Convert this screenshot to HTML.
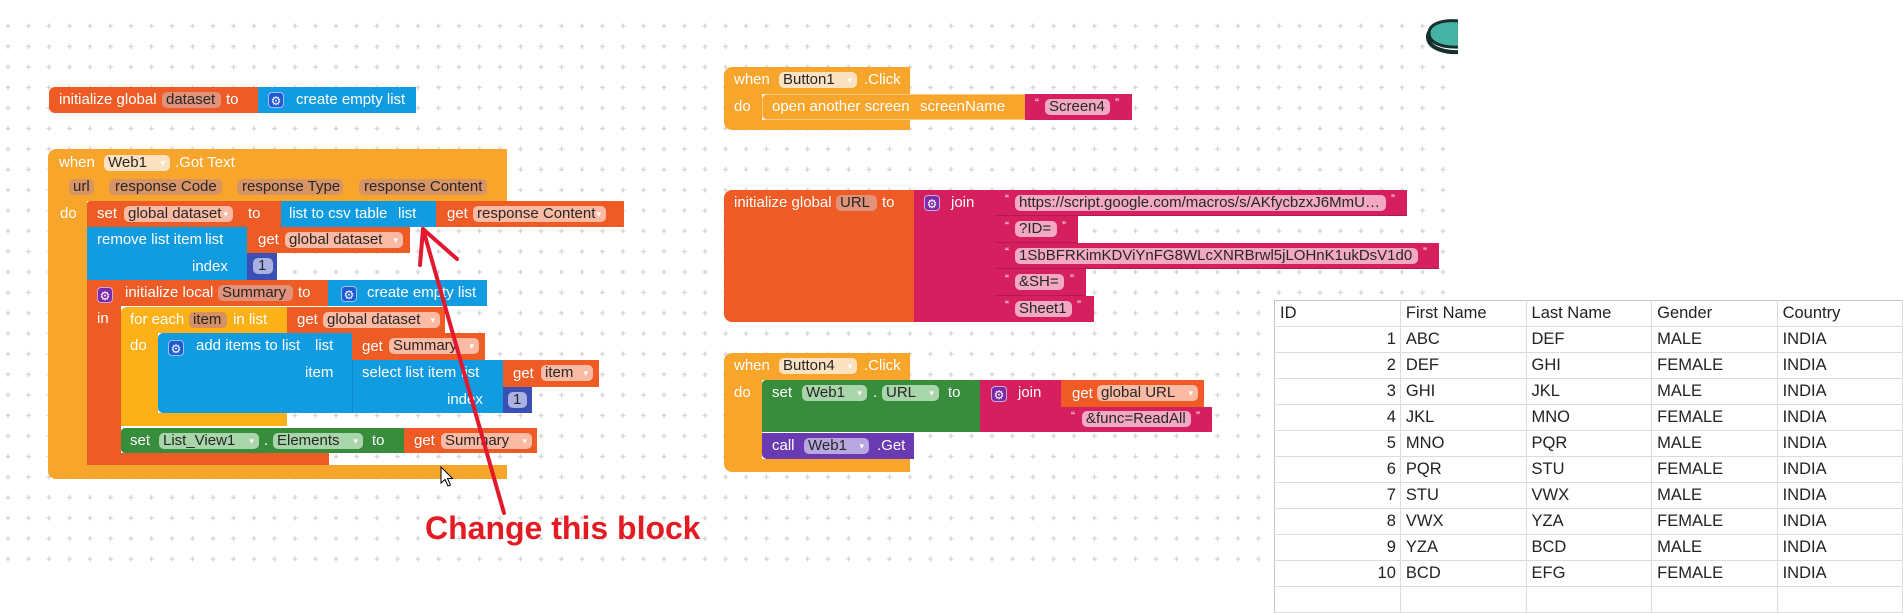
<!DOCTYPE html>
<html><head><meta charset="utf-8">
<style>
body{margin:0;width:1903px;height:593px;position:relative;overflow:hidden;background:#fff;font-family:"Liberation Sans",Arial,sans-serif;}
.r{position:absolute;}
.t{position:absolute;color:#fff;font-size:15px;line-height:26px;height:26px;white-space:nowrap;}
.p{position:absolute;border-radius:5px;color:#262626;font-size:15px;line-height:16px;height:16px;white-space:nowrap;padding-left:4px;box-sizing:border-box;overflow:hidden;}
.d{position:absolute;right:5px;top:0;font-size:9px;color:#fff;}
.q{position:absolute;color:#fff;font-size:12px;line-height:12px;}
.g{position:absolute;width:16px;height:16px;border-radius:4px;color:#fff;font-size:12px;line-height:16px;text-align:center;box-sizing:border-box;border:1px solid rgba(255,255,255,0.6);font-family:"DejaVu Sans",sans-serif;}
table{position:absolute;left:1274px;top:300px;border-collapse:collapse;table-layout:fixed;font-size:16.5px;color:#222;background:#fff;}
td{height:25px;line-height:25px;border:1px solid #dcdcdc;padding:0 5px;white-space:nowrap;overflow:hidden;background:#fff;}
td.n{text-align:right;padding-right:4px;}
</style></head><body>

<svg class="r" style="left:0;top:0" width="1458" height="570">
<defs><pattern id="gp" x="-2.25" y="15.75" width="20.5" height="20.5" patternUnits="userSpaceOnUse">
<path d="M7.75 10.25H12.75M10.25 7.75V12.75" stroke="#cdcdcd" stroke-width="1.1"/></pattern></defs>
<rect x="0" y="14" width="1458" height="556" fill="url(#gp)"/>
</svg>

<!-- teal shape top right -->
<svg class="r" style="left:1420px;top:15px" width="38" height="42">
<path d="M40 12 C22 8 8 12 8 22 C8 32 22 38 40 37" fill="none" stroke="#16302d" stroke-width="4"/>
<path d="M40 6 C20 4 9 10 9 18 C9 28 22 33 40 32 Z" fill="#45b3a4" stroke="#16302d" stroke-width="3"/>
</svg>

<!-- Block A: init global dataset -->
<div class="r" style="left:49px;top:87px;width:209px;height:26px;background:#ef5b25;border-radius:6px 0 0 6px"></div>
<div class="r" style="left:258px;top:87px;width:158px;height:26px;background:#119ce1"></div>
<div class="t" style="left:59px;top:87px">initialize global</div>
<div class="p" style="left:162px;top:92px;width:59px;background:#e1927a">dataset</div>
<div class="t" style="left:226px;top:87px">to</div>
<div class="g" style="left:268px;top:92px;background:#1d5ad8">⚙</div>
<div class="t" style="left:296px;top:87px">create empty list</div>

<!-- Block B: when Web1.GotText -->
<div class="r" style="left:48px;top:149px;width:459px;height:52px;background:#f8a52c;border-radius:8px 0 0 0"></div>
<div class="r" style="left:48px;top:201px;width:39px;height:264px;background:#f8a52c"></div>
<div class="r" style="left:48px;top:465px;width:459px;height:14px;background:#f8a52c;border-radius:0 0 0 8px"></div>
<div class="t" style="left:59px;top:150px">when</div>
<div class="p" style="left:104px;top:155px;width:66px;background:#fde2c2">Web1<span class="d">▾</span></div>
<div class="t" style="left:175px;top:150px">.Got Text</div>
<div class="p" style="left:69px;top:179px;width:25px;background:#d99466">url</div>
<div class="p" style="left:109px;top:179px;width:113px;background:#d99466;padding-left:6px">response Code</div>
<div class="p" style="left:237px;top:179px;width:106px;background:#d99466;padding-left:5px">response Type</div>
<div class="p" style="left:359px;top:179px;width:128px;background:#d99466;padding-left:5px">response Content</div>
<div class="t" style="left:60px;top:201px">do</div>

<!-- set global dataset row -->
<div class="r" style="left:87px;top:201px;width:194px;height:26px;background:#ef5b25;border-radius:3px 0 0 0"></div>
<div class="r" style="left:281px;top:201px;width:155px;height:26px;background:#119ce1"></div>
<div class="r" style="left:436px;top:201px;width:188px;height:26px;background:#ef5b25"></div>
<div class="t" style="left:97px;top:201px">set</div>
<div class="p" style="left:124px;top:206px;width:109px;background:#fbbaa3">global dataset<span class="d">▾</span></div>
<div class="t" style="left:248px;top:201px">to</div>
<div class="t" style="left:289px;top:201px">list to csv table</div>
<div class="t" style="left:398px;top:201px">list</div>
<div class="t" style="left:447px;top:201px">get</div>
<div class="p" style="left:473px;top:206px;width:133px;background:#fbbaa3">response Content<span class="d">▾</span></div>

<!-- remove list item -->
<div class="r" style="left:87px;top:227px;width:160px;height:53px;background:#119ce1"></div>
<div class="r" style="left:247px;top:227px;width:163px;height:26px;background:#ef5b25"></div>
<div class="r" style="left:247px;top:253px;width:30px;height:27px;background:#3b4fb5"></div>
<div class="t" style="left:97px;top:227px">remove list item</div>
<div class="t" style="left:205px;top:227px">list</div>
<div class="t" style="left:192px;top:254px">index</div>
<div class="t" style="left:258px;top:227px">get</div>
<div class="p" style="left:285px;top:232px;width:118px;background:#fbbaa3">global dataset<span class="d">▾</span></div>
<div class="p" style="left:253px;top:258px;width:20px;background:#aab2e3;padding-left:5px">1</div>

<!-- initialize local -->
<div class="r" style="left:87px;top:280px;width:241px;height:26px;background:#ef5b25"></div>
<div class="r" style="left:328px;top:280px;width:159px;height:26px;background:#119ce1"></div>
<div class="r" style="left:87px;top:306px;width:34px;height:147px;background:#ef5b25"></div>
<div class="r" style="left:87px;top:453px;width:242px;height:12px;background:#ef5b25"></div>
<div class="g" style="left:97px;top:287px;background:#7b2ba8">⚙</div>
<div class="t" style="left:125px;top:280px">initialize local</div>
<div class="p" style="left:218px;top:285px;width:75px;background:#e1927a">Summary</div>
<div class="t" style="left:298px;top:280px">to</div>
<div class="g" style="left:341px;top:286px;background:#1d5ad8">⚙</div>
<div class="t" style="left:367px;top:280px">create empty list</div>
<div class="t" style="left:97px;top:306px">in</div>

<!-- for each -->
<div class="r" style="left:121px;top:307px;width:166px;height:26px;background:#fbb117;border-radius:6px 0 0 0"></div>
<div class="r" style="left:287px;top:307px;width:158px;height:26px;background:#ef5b25"></div>
<div class="r" style="left:121px;top:333px;width:37px;height:80px;background:#fbb117"></div>
<div class="r" style="left:121px;top:413px;width:166px;height:13px;background:#fbb117"></div>
<div class="t" style="left:130px;top:307px">for each</div>
<div class="p" style="left:189px;top:312px;width:38px;background:#d59063">item</div>
<div class="t" style="left:233px;top:307px">in list</div>
<div class="t" style="left:297px;top:307px">get</div>
<div class="p" style="left:323px;top:312px;width:117px;background:#fbbaa3">global dataset<span class="d">▾</span></div>
<div class="t" style="left:130px;top:333px">do</div>

<!-- add items to list -->
<div class="r" style="left:158px;top:333px;width:194px;height:80px;background:#119ce1;border-radius:5px 0 0 5px"></div>
<div class="r" style="left:352px;top:333px;width:133px;height:27px;background:#ef5b25"></div>
<div class="r" style="left:352px;top:360px;width:151px;height:53px;background:#119ce1;border-left:1px solid #0c86c4;box-sizing:border-box"></div>
<div class="r" style="left:503px;top:360px;width:96px;height:27px;background:#ef5b25"></div>
<div class="r" style="left:503px;top:387px;width:29px;height:26px;background:#3b4fb5"></div>
<div class="g" style="left:168px;top:340px;background:#1d5ad8">⚙</div>
<div class="t" style="left:196px;top:333px">add items to list</div>
<div class="t" style="left:315px;top:333px">list</div>
<div class="t" style="left:362px;top:334px">get</div>
<div class="p" style="left:389px;top:338px;width:90px;background:#fbbaa3">Summary<span class="d">▾</span></div>
<div class="t" style="left:305px;top:360px">item</div>
<div class="t" style="left:362px;top:360px">select list item</div>
<div class="t" style="left:461px;top:360px">list</div>
<div class="t" style="left:513px;top:361px">get</div>
<div class="p" style="left:541px;top:365px;width:52px;background:#fbbaa3">item<span class="d">▾</span></div>
<div class="t" style="left:447px;top:387px">index</div>
<div class="p" style="left:508px;top:392px;width:19px;background:#aab2e3;padding-left:5px">1</div>

<!-- set List_View1 -->
<div class="r" style="left:121px;top:428px;width:283px;height:25px;background:#378d3c;border-radius:4px 0 0 4px"></div>
<div class="r" style="left:404px;top:428px;width:133px;height:25px;background:#ef5b25"></div>
<div class="t" style="left:130px;top:428px">set</div>
<div class="p" style="left:159px;top:433px;width:100px;background:#a8d5a9">List_View1<span class="d">▾</span></div>
<div class="t" style="left:264px;top:428px">.</div>
<div class="p" style="left:273px;top:433px;width:90px;background:#a8d5a9">Elements<span class="d">▾</span></div>
<div class="t" style="left:372px;top:428px">to</div>
<div class="t" style="left:414px;top:428px">get</div>
<div class="p" style="left:441px;top:433px;width:91px;background:#fbbaa3">Summary<span class="d">▾</span></div>

<!-- Block C: when Button1.Click -->
<div class="r" style="left:724px;top:67px;width:186px;height:27px;background:#f8a52c;border-radius:8px 0 0 0"></div>
<div class="r" style="left:724px;top:94px;width:38px;height:26px;background:#f8a52c"></div>
<div class="r" style="left:724px;top:120px;width:186px;height:10px;background:#f8a52c;border-radius:0 0 0 8px"></div>
<div class="r" style="left:762px;top:94px;width:263px;height:26px;background:#f8a52c;border:1px solid #fcc883;border-right:none;box-sizing:border-box;border-radius:5px 0 0 5px"></div>
<div class="r" style="left:1025px;top:94px;width:107px;height:26px;background:#d61f5e"></div>
<div class="t" style="left:734px;top:67px">when</div>
<div class="p" style="left:779px;top:72px;width:78px;background:#fde2c2">Button1<span class="d">▾</span></div>
<div class="t" style="left:864px;top:67px">.Click</div>
<div class="t" style="left:734px;top:94px">do</div>
<div class="t" style="left:772px;top:94px">open another screen</div>
<div class="t" style="left:920px;top:94px">screenName</div>
<div class="q" style="left:1035px;top:97px">“</div>
<div class="p" style="left:1045px;top:99px;width:65px;background:#f3a9c4">Screen4</div>
<div class="q" style="left:1115px;top:97px">”</div>

<!-- Block D: init global URL -->
<div class="r" style="left:724px;top:190px;width:190px;height:132px;background:#ef5b25;border-radius:8px 0 0 8px"></div>
<div class="r" style="left:914px;top:190px;width:81px;height:132px;background:#d61f5e"></div>
<div class="t" style="left:734px;top:190px">initialize global</div>
<div class="p" style="left:836px;top:195px;width:41px;background:#e1927a">URL</div>
<div class="t" style="left:882px;top:190px">to</div>
<div class="g" style="left:924px;top:195px;background:#7b2ba8">⚙</div>
<div class="t" style="left:951px;top:190px">join</div>

<div class="r" style="left:995px;top:190px;width:412px;height:26px;background:#d61f5e;border-bottom:1px solid #b9174f;box-sizing:border-box"></div>
<div class="q" style="left:1005px;top:193px">“</div>
<div class="p" style="left:1015px;top:195px;width:371px;background:#f3a9c4">https://script.google.com/macros/s/AKfycbzxJ6MmU…</div>
<div class="q" style="left:1391px;top:193px">”</div>

<div class="r" style="left:995px;top:216px;width:83px;height:27px;background:#d61f5e;border-bottom:1px solid #b9174f;box-sizing:border-box"></div>
<div class="q" style="left:1005px;top:220px">“</div>
<div class="p" style="left:1015px;top:221px;width:42px;background:#f3a9c4">?ID=</div>
<div class="q" style="left:1062px;top:220px">”</div>

<div class="r" style="left:995px;top:243px;width:444px;height:26px;background:#d61f5e;border-bottom:1px solid #b9174f;box-sizing:border-box"></div>
<div class="q" style="left:1005px;top:246px">“</div>
<div class="p" style="left:1015px;top:248px;width:403px;background:#f3a9c4">1SbBFRKimKDViYnFG8WLcXNRBrwl5jLOHnK1ukDsV1d0</div>
<div class="q" style="left:1423px;top:246px">”</div>

<div class="r" style="left:995px;top:269px;width:91px;height:27px;background:#d61f5e;border-bottom:1px solid #b9174f;box-sizing:border-box"></div>
<div class="q" style="left:1005px;top:273px">“</div>
<div class="p" style="left:1015px;top:274px;width:49px;background:#f3a9c4">&amp;SH=</div>
<div class="q" style="left:1070px;top:273px">”</div>

<div class="r" style="left:995px;top:296px;width:99px;height:26px;background:#d61f5e"></div>
<div class="q" style="left:1005px;top:299px">“</div>
<div class="p" style="left:1015px;top:301px;width:57px;background:#f3a9c4">Sheet1</div>
<div class="q" style="left:1077px;top:299px">”</div>

<!-- Block E: when Button4.Click -->
<div class="r" style="left:724px;top:353px;width:186px;height:27px;background:#f8a52c;border-radius:8px 0 0 0"></div>
<div class="r" style="left:724px;top:380px;width:38px;height:79px;background:#f8a52c"></div>
<div class="r" style="left:724px;top:459px;width:186px;height:13px;background:#f8a52c;border-radius:0 0 0 8px"></div>
<div class="t" style="left:734px;top:353px">when</div>
<div class="p" style="left:779px;top:358px;width:78px;background:#fde2c2">Button4<span class="d">▾</span></div>
<div class="t" style="left:864px;top:353px">.Click</div>
<div class="t" style="left:734px;top:380px">do</div>

<div class="r" style="left:762px;top:380px;width:218px;height:52px;background:#378d3c;border-radius:4px 0 0 0"></div>
<div class="r" style="left:980px;top:380px;width:81px;height:52px;background:#d61f5e"></div>
<div class="r" style="left:1061px;top:380px;width:143px;height:27px;background:#ef5b25"></div>
<div class="r" style="left:1061px;top:407px;width:151px;height:25px;background:#d61f5e"></div>
<div class="r" style="left:762px;top:433px;width:152px;height:26px;background:#6a3ab2;border-radius:0 0 0 5px"></div>
<div class="t" style="left:772px;top:380px">set</div>
<div class="p" style="left:802px;top:385px;width:65px;background:#a8d5a9">Web1<span class="d">▾</span></div>
<div class="t" style="left:873px;top:380px">.</div>
<div class="p" style="left:882px;top:385px;width:57px;background:#a8d5a9">URL<span class="d">▾</span></div>
<div class="t" style="left:948px;top:380px">to</div>
<div class="g" style="left:991px;top:386px;background:#7b2ba8">⚙</div>
<div class="t" style="left:1018px;top:380px">join</div>
<div class="t" style="left:1072px;top:381px">get</div>
<div class="p" style="left:1097px;top:385px;width:101px;background:#fbbaa3">global URL<span class="d">▾</span></div>
<div class="q" style="left:1071px;top:410px">“</div>
<div class="p" style="left:1082px;top:411px;width:109px;background:#f3a9c4">&amp;func=ReadAll</div>
<div class="q" style="left:1196px;top:410px">”</div>
<div class="t" style="left:772px;top:433px">call</div>
<div class="p" style="left:804px;top:438px;width:65px;background:#b9a7e0">Web1<span class="d">▾</span></div>
<div class="t" style="left:877px;top:433px">.Get</div>

<!-- Table -->
<div class="r" style="left:1274px;top:299px;width:629px;height:294px;background:#fff"></div>
<table>
<col style="width:127px"><col style="width:126px"><col style="width:126px"><col style="width:126px"><col style="width:126px">
<tr><td style="border-left-color:#c4c4c4;border-top-color:#c4c4c4">ID</td><td style="border-top-color:#c4c4c4">First Name</td><td style="border-top-color:#c4c4c4">Last Name</td><td style="border-top-color:#c4c4c4">Gender</td><td style="border-top-color:#c4c4c4">Country</td></tr>
<tr><td class="n" style="border-left-color:#c4c4c4">1</td><td>ABC</td><td>DEF</td><td>MALE</td><td>INDIA</td></tr>
<tr><td class="n" style="border-left-color:#c4c4c4">2</td><td>DEF</td><td>GHI</td><td>FEMALE</td><td>INDIA</td></tr>
<tr><td class="n" style="border-left-color:#c4c4c4">3</td><td>GHI</td><td>JKL</td><td>MALE</td><td>INDIA</td></tr>
<tr><td class="n" style="border-left-color:#c4c4c4">4</td><td>JKL</td><td>MNO</td><td>FEMALE</td><td>INDIA</td></tr>
<tr><td class="n" style="border-left-color:#c4c4c4">5</td><td>MNO</td><td>PQR</td><td>MALE</td><td>INDIA</td></tr>
<tr><td class="n" style="border-left-color:#c4c4c4">6</td><td>PQR</td><td>STU</td><td>FEMALE</td><td>INDIA</td></tr>
<tr><td class="n" style="border-left-color:#c4c4c4">7</td><td>STU</td><td>VWX</td><td>MALE</td><td>INDIA</td></tr>
<tr><td class="n" style="border-left-color:#c4c4c4">8</td><td>VWX</td><td>YZA</td><td>FEMALE</td><td>INDIA</td></tr>
<tr><td class="n" style="border-left-color:#c4c4c4">9</td><td>YZA</td><td>BCD</td><td>MALE</td><td>INDIA</td></tr>
<tr><td class="n" style="border-left-color:#c4c4c4">10</td><td>BCD</td><td>EFG</td><td>FEMALE</td><td>INDIA</td></tr>
<tr><td style="border-left-color:#c4c4c4"></td><td></td><td></td><td></td><td></td></tr>
</table>

<!-- Overlay: red arrow, label, cursor -->
<svg class="r" style="left:0;top:0" width="1903" height="593">
<g stroke="#e3172d" stroke-width="4" stroke-linecap="round" fill="none">
<line x1="423" y1="229" x2="504" y2="513"/>
<line x1="423" y1="229" x2="420" y2="265"/>
<line x1="423" y1="229" x2="457" y2="259"/>
</g>
<text x="425" y="539" font-family="Liberation Sans, Arial, sans-serif" font-weight="bold" font-size="32" fill="#e31b23">Change this block</text>
<path d="M441 467 L441 483 L445 479.5 L448 486 L450.5 485 L447.5 478.5 L452.5 478.5 Z" fill="#fff" stroke="#000" stroke-width="1"/>
</svg>

</body></html>
